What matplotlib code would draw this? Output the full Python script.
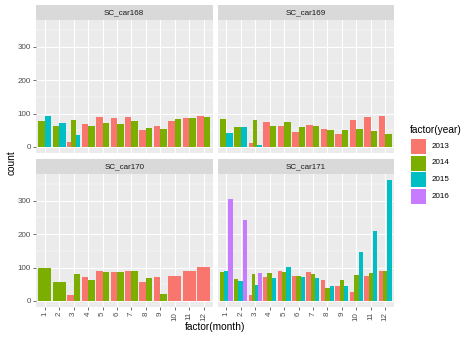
import matplotlib
matplotlib.use('Agg')
import matplotlib.pyplot as plt
import numpy as np

plt.rcParams['font.family'] = ['Liberation Sans', 'DejaVu Sans']

months = list(range(1, 13))
years = ['2013', '2014', '2015', '2016']
year_colors = ['#F8766D', '#7CAE00', '#00BFC4', '#C77CFF']
cars = ['SC_car168', 'SC_car169', 'SC_car170', 'SC_car171']

# counts per month, None = no bar
car168_2013 = [None, None, 14, 70, 89, 86, 89, 52, 62, 78, 86, 93]
car168_2014 = [77, 62, 80, 63, 71, 70, 77, 58, 55, 85, 87, 91]
car168_2015 = [92, 72, 37, None, None, None, None, None, None, None, None, None]
car168_2016 = [None] * 12

car169_2013 = [None, None, 12, 76, 64, 45, 65, 54, 40, 81, 91, 94]
car169_2014 = [85, 61, 81, 64, 76, 59, 63, 50, 50, 55, 49, 40]
car169_2015 = [43, 59, 5, None, None, None, None, None, None, None, None, None]
car169_2016 = [None] * 12

car170_2013 = [None, None, 18, 73, 90, 88, 91, 58, 71, 76, 90, 101]
car170_2014 = [100, 57, 80, 64, 88, 88, 89, 70, 21, None, None, None]
car170_2015 = [None] * 12
car170_2016 = [None] * 12

car171_2013 = [None, None, 18, 72, 91, 74, 87, 64, 46, 27, 76, 91]
car171_2014 = [88, 67, 82, 83, 88, 74, 82, 38, 63, 78, 83, 89]
car171_2015 = [91, 59, 48, 69, 103, 71, 69, 46, 46, 147, 210, 362]
car171_2016 = [306, 241, 84, None, None, None, None, None, None, None, None, None]

car_data = {
    'SC_car168': [car168_2013, car168_2014, car168_2015, car168_2016],
    'SC_car169': [car169_2013, car169_2014, car169_2015, car169_2016],
    'SC_car170': [car170_2013, car170_2014, car170_2015, car170_2016],
    'SC_car171': [car171_2013, car171_2014, car171_2015, car171_2016],
}

W, H = 474, 338
fig = plt.figure(figsize=(W / 100, H / 100), dpi=100)

lefts = [36, 217.5]
pw = 176.5
tops = [20, 174]
ph = 133
strip_h = 15

ymax_val = 362
ylim = (-0.05 * ymax_val, 1.05 * ymax_val)
tick_fs = 5.8
title_fs = 7.3

for k, car in enumerate(cars):
    row, col = divmod(k, 2)
    x0 = lefts[col]
    top = tops[row]
    ax = fig.add_axes([x0 / W, (H - top - ph) / H, pw / W, ph / H])
    ax.set_facecolor('#EBEBEB')
    for s in ax.spines.values():
        s.set_visible(False)
    ax.set_xlim(0.4, 12.6)
    ax.set_ylim(*ylim)
    for yv in [50, 150, 250, 350]:
        ax.axhline(yv, color='white', lw=0.35, zorder=0)
    for yv in [0, 100, 200, 300]:
        ax.axhline(yv, color='white', lw=0.75, zorder=0)
    for m in months:
        ax.axvline(m, color='white', lw=0.75, zorder=0)

    series = car_data[car]
    for i, m in enumerate(months):
        present = [j for j in range(4) if series[j][i] is not None]
        n = len(present)
        w = 0.9 / n
        for p, j in enumerate(present):
            xc = m - 0.45 + w * (p + 0.5)
            ax.bar(xc, series[j][i], width=w, color=year_colors[j], linewidth=0, zorder=2)

    ax.set_yticks([0, 100, 200, 300])
    ax.set_xticks(months)
    ax.tick_params(axis='both', length=2, width=0.5, color='#333333',
                   labelsize=tick_fs, labelcolor='#4D4D4D', pad=1.5)
    if col == 0:
        ax.set_yticklabels(['0', '100', '200', '300'])
    else:
        ax.tick_params(axis='y', length=0, labelleft=False)
    if row == 1:
        ax.set_xticklabels([str(m) for m in months], rotation=90)
    else:
        ax.tick_params(axis='x', length=0, labelbottom=False)

    sax = fig.add_axes([x0 / W, (H - top) / H, pw / W, strip_h / H])
    sax.set_facecolor('#D9D9D9')
    sax.set_xticks([])
    sax.set_yticks([])
    for s in sax.spines.values():
        s.set_visible(False)
    sax.text(0.5, 0.5, car, ha='center', va='center', fontsize=tick_fs,
             color='#1A1A1A', transform=sax.transAxes)

fig.text(12 / W, 1 - 163 / H, 'count', rotation=90, ha='center', va='center',
         fontsize=title_fs)
fig.text(215 / W, 1 - 327 / H, 'factor(month)', ha='center', va='center',
         fontsize=title_fs)

# legend
fig.text(410 / W, 1 - 130 / H, 'factor(year)', ha='left', va='center',
         fontsize=title_fs)
for j, yr in enumerate(years):
    ytop = 139 + j * 16.5
    lax = fig.add_axes([411 / W, (H - ytop - 15) / H, 15 / W, 15 / H])
    lax.set_facecolor(year_colors[j])
    lax.set_xticks([])
    lax.set_yticks([])
    for s in lax.spines.values():
        s.set_visible(False)
    fig.text(432 / W, 1 - (ytop + 7.5) / H, yr, ha='left', va='center',
             fontsize=tick_fs)

fig.savefig('out.png', dpi=100)
